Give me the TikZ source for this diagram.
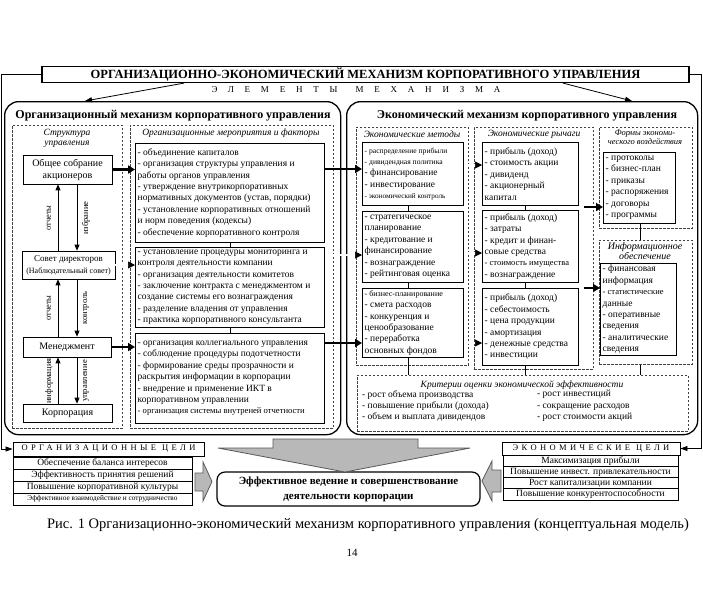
\documentclass[tikz,border=0pt]{standalone}
\usepackage{fontspec}
\setmainfont{Liberation Serif}
\usetikzlibrary{arrows.meta,calc}
\newcommand\fz[2]{\fontsize{#1}{#2}\selectfont}
\newcommand\tb[6]{\node[tbox, minimum width={(#4-#2)*1pt}, minimum height={(#5-#3)*1pt}] (#1) at (#2,#3) {};
  \node[txt] (#1t) at ([xshift=2.5pt]#1.west) {#6};}
\newcommand\db[5]{\node[dbox, minimum width={(#4-#2)*1pt}, minimum height={(#5-#3)*1pt}] (#1) at (#2,#3) {};}
\begin{document}
\begin{tikzpicture}[x=1pt,y=-1pt,
  panel/.style={draw, line width=1.3pt, rounded corners=14pt, anchor=north west, inner sep=0},
  dbox/.style={draw=black!75, dash pattern=on 2.4pt off 1.6pt, line width=0.6pt, anchor=north west, inner sep=0},
  tbox/.style={draw, line width=0.7pt, anchor=north west, inner sep=0},
  txt/.style={anchor=west, align=left, inner sep=0, font=\fz{9.5}{11.4}},
  sbox/.style={draw, line width=0.7pt, align=center, inner sep=0},
  conn/.style={line width=0.6pt},
  varr/.style={line width=0.8pt, -{Triangle[length=6pt,width=5pt]}},
  tarr/.style={line width=2.6pt, -{Triangle[length=7pt,width=8pt]}},
  darr/.style={double, double distance=1.4pt, line width=0.6pt, -{Triangle[length=7pt,width=7pt]}},
  larr/.style={line width=0.8pt, -{Triangle[length=7pt,width=5pt]}},
  ital/.style={font=\itshape\fz{9.5}{10}, inner sep=0, align=center},
  vlab/.style={rotate=90, font=\fz{8.5}{10}, inner sep=0},
  headtxt/.style={font=\bfseries\fz{12}{13}, inner sep=0},
  goalrow/.style={draw, line width=0.6pt, inner sep=0, font=\fz{9.5}{11}},
  garrow/.style={fill=black!28, draw=black!65, line width=0.8pt}
]
\useasboundingbox (0,0) rectangle (703,595);
\fill[white] (0,0) rectangle (703,595);

% title
\node[draw, line width=1.2pt, minimum width=647pt, minimum height=16pt, inner sep=0,
  font=\bfseries\fz{12.5}{14}] (title) at (365.5,74.5)
  {ОРГАНИЗАЦИОННО-ЭКОНОМИЧЕСКИЙ МЕХАНИЗМ КОРПОРАТИВНОГО УПРАВЛЕНИЯ};
\node[font=\fz{9}{11}, inner sep=0] (elem) at (356,90)
  {\addfontfeature{LetterSpace=120}ЭЛЕМЕНТЫ\hspace{18pt}МЕХАНИЗМА};

% panels
\node[panel, minimum width=336pt, minimum height=333pt] (lp) at (4,101) {};
\node[panel, minimum width=351pt, minimum height=333pt] (rp) at (346,101) {};
\node[headtxt] (lh) at (173,116) {Организационный механизм корпоративного управления};
\node[headtxt] (rh) at (527,116) {Экономический механизм корпоративного управления};

% dashed columns
\db{ds}{12}{125}{122}{428}
\db{dm}{130}{125}{333}{428}
\db{dme}{356}{127}{468}{365}
\db{dle}{474}{127}{593}{369}
\db{dfo}{599}{127}{692}{228}
\db{dinf}{599}{240}{692}{364}
\db{crit}{357}{375}{688}{431}

\node[ital, font=\itshape\fz{9.5}{10}] (st) at (67,138) {Структура\\управления};
\node[ital] (mt) at (231,133) {Организационные мероприятия и факторы};
\node[ital] (emt) at (412,134) {Экономические методы};
\node[ital] (elt) at (534,134) {Экономические рычаги};
\node[ital, font=\itshape\fz{8.5}{9.5}] (fmt) at (645,137.5) {Формы экономи-\\ческого воздействия};
\node[ital, font=\itshape\fz{10}{9}] (imt) at (645,251) {Информационное\\обеспечение};

% structure
\node[sbox, minimum width=89pt, minimum height=29pt, font=\fz{10}{12}] (gsm) at (67.5,169.5) {Общее собрание\\акционеров};
\node[sbox, minimum width=93pt, minimum height=28pt] (sov) at (68.5,265) {{\fz{9}{11}Совет директоров}\\{\fz{8}{10}(Наблюдательный совет)}};
\node[sbox, minimum width=88pt, minimum height=20pt, font=\fz{10}{12}] (man) at (67,347) {Менеджмент};
\node[sbox, minimum width=89pt, minimum height=18pt, font=\fz{10}{12}] (korp) at (67.5,413) {Корпорация};

\coordinate (cu) at (58,0); \coordinate (cd) at (77,0);
\draw[varr] (sov.north -| cu) -- (gsm.south -| cu);
\draw[varr] (gsm.south -| cd) -- (sov.north -| cd);
\draw[varr] (man.north -| cu) -- (sov.south -| cu);
\draw[varr] (sov.south -| cd) -- (man.north -| cd);
\draw[varr] (korp.north -| cu) -- (man.south -| cu);
\draw[varr] (man.south -| cd) -- (korp.north -| cd);
\node[vlab] (l1) at (49,218) {отчеты};
\node[vlab] (l2) at (86,218) {избрание};
\node[vlab] (l3) at (49,308) {отчеты};
\node[vlab] (l4) at (86,308) {контроль};
\node[vlab] (l5) at (49,381) {информация};
\node[vlab] (l6) at (86,381) {управление};

% measures
\tb{m1}{135}{143}{324}{242}{- объединение капиталов\\
- организация структуры управления и\\
работы органов управления\\
- утверждение внутрикорпоративных\\
нормативных документов (устав, порядки)\\
- установление корпоративных отношений\\
и норм поведения (кодексы)\\
- обеспечение корпоративного контроля}
\tb{m2}{135}{247}{324}{327}{- установление процедуры мониторинга и\\
контроля деятельности компании\\
- организация деятельности комитетов\\
- заключение контракта с менеджментом и\\
создание системы его вознаграждения\\
- разделение владения от управления\\
- практика корпоративного консультанта}
\tb{m3}{135}{333}{324}{423}{- организация коллегиального управления\\
- соблюдение процедуры подотчетности\\
- формирование среды прозрачности и\\
раскрытия информации в корпорации\\
- внедрение и применение ИКТ в\\
корпоративном управлении\\
{\fz{8.6}{11}- организация системы внутреней отчетности}}

% methods
\tb{A}{362}{142}{463}{205}{{\fz{7.6}{9}- распределение прибыли}\\
{\fz{7.6}{9}- дивидендная политика}\\
- финансирование\\
- инвестирование\\
{\fz{7.2}{9}- экономический контроль}}
\tb{B}{362}{211}{463}{282}{- стратегическое\\планирование\\- кредитование и\\финансирование\\- вознаграждение\\- рейтинговая оценка}
\tb{C}{362}{288}{463}{357}{{\fz{8}{9}- бизнес-планирование}\\- смета расходов\\- конкуренция и\\ценообразование\\- переработка\\основных фондов}

% levers
\tb{L1}{482}{142}{578}{205}{- прибыль (доход)\\- стоимость акции\\- дивиденд\\- акционерный\\капитал}
\tb{L2}{482}{210}{578}{282}{- прибыль (доход)\\- затраты\\- кредит и финан-\\совые средства\\{\fz{8.5}{10}- стоимость имущества}\\- вознаграждение}
\tb{L3}{482}{288}{578}{365}{- прибыль (доход)\\- себестоимость\\- цена продукции\\- амортизация\\- денежные средства\\- инвестиции}

% forms
\tb{F1}{603}{152}{675}{223}{- протоколы\\- бизнес-план\\- приказы\\- распоряжения\\- договоры\\- программы}
\tb{F2}{600}{263}{676}{355}{- финансовая\\информация\\{\fz{8.5}{10}- статистические}\\данные\\- оперативные\\сведения\\- аналитические\\сведения}

% criteria
\node[ital] (ct) at (522,385) {Критерии оценки экономической эффективности};
\node[txt, anchor=north west] (cl) at (362,390) {- рост объема производства\\- повышение прибыли (дохода)\\- объем и выплата дивидендов};
\node[txt, anchor=north west] (cr) at (537,390) {- рост инвестиций\\- сокращение расходов\\- рост стоимости акций};

% arrows between columns
\draw[tarr] (gsm.east) -- (gsm.east -| m1.west);
\draw[darr] (sov.east) -- (sov.east -| m2.west);
\draw[tarr] (man.east) -- (man.east -| m3.west);
\coordinate (r1) at (0,169); \coordinate (r2) at (0,255); \coordinate (r3) at (0,343);
\draw[tarr] (r1 -| m1.east) -- (r1 -| A.west);
\draw[darr] (r2 -| m2.east) -- (r2 -| B.west);
\draw[tarr] (r3 -| m3.east) -- (r3 -| C.west);
\coordinate (s1) at (0,165); \coordinate (s2) at (0,253); \coordinate (s3) at (0,343);
\draw[darr] (s1 -| A.east) -- (s1 -| L1.west);
\draw[darr] (s2 -| B.east) -- (s2 -| L2.west);
\draw[darr] (s3 -| C.east) -- (s3 -| L3.west);
\coordinate (dv) at (584,0);
\draw[conn, double, double distance=1.5pt] (L1.north -| dv) -- (L3.south -| dv);
\coordinate (r4) at (0,207); \coordinate (r5) at (0,288);
\draw[tarr] (r4 -| dv) -- (r4 -| F1.west);
\draw[tarr] (r5 -| dv) -- (r5 -| F2.west);

% vertical connectors
\draw[conn] (m1.south) -- (m2.north);
\draw[conn] (m2.south) -- (m3.north);
\coordinate (cx1) at (408,0); \coordinate (cx2) at (525,0); \coordinate (cx3) at (640,0);
\draw[conn] (A.south -| cx1) -- (B.north -| cx1);
\draw[conn] (B.south -| cx1) -- (C.north -| cx1);
\draw[conn] (C.south -| cx1) -- (crit.north -| cx1);
\draw[conn] (L1.south -| cx2) -- (L2.north -| cx2);
\draw[conn] (L2.south -| cx2) -- (L3.north -| cx2);
\draw[conn] (L3.south -| cx2) -- (crit.north -| cx2);
\draw[conn] (F1.south -| cx3) -- (dinf.north -| cx3);
\draw[conn] (dinf.south -| cx3) -- (crit.north -| cx3);

% title arrows
\coordinate (ta1) at (184,0); \coordinate (tb1) at (85,0);
\coordinate (ta2) at (563,0); \coordinate (tb2) at (632,0);
\draw[larr] (title.south -| ta1) -- (lp.north -| tb1);
\draw[larr] (title.south -| ta2) -- (rp.north -| tb2);

% goals
\node[draw, line width=0.9pt, minimum width=191pt, minimum height=14pt, inner sep=0, font=\fz{8.5}{10}] (orgH) at (108.5,449)
  {\addfontfeature{LetterSpace=40}ОРГАНИЗАЦИОННЫЕ\hspace{6pt}ЦЕЛИ};
\node[goalrow, minimum width=179pt, minimum height=12pt] (o1) at (102.5,463) {Обеспечение баланса интересов};
\node[goalrow, minimum width=179pt, minimum height=12pt] (o2) at (102.5,475) {Эффективность принятия решений};
\node[goalrow, minimum width=179pt, minimum height=12pt] (o3) at (102.5,487) {Повышение корпоративной культуры};
\node[goalrow, minimum width=179pt, minimum height=12pt, font=\fz{7.3}{9}] (o4) at (102.5,499) {Эффективное взаимодействие и сотрудничество};

\node[draw, line width=0.9pt, minimum width=178pt, minimum height=13pt, inner sep=0, font=\fz{8.5}{10}] (ecoH) at (591,448.5)
  {\addfontfeature{LetterSpace=40}ЭКОНОМИЧЕСКИЕ\hspace{6pt}ЦЕЛИ};
\node[goalrow, minimum width=175pt, minimum height=11.25pt] (e1) at (590.5,460.6) {Максимизация прибыли};
\node[goalrow, minimum width=175pt, minimum height=11.25pt] (e2) at (590.5,471.9) {Повышение инвест. привлекательности};
\node[goalrow, minimum width=175pt, minimum height=11.25pt] (e3) at (590.5,483.1) {Рост капитализации компании};
\node[goalrow, minimum width=175pt, minimum height=11.25pt] (e4) at (590.5,494.4) {Повышение конкурентоспособности};

\coordinate (lc) at (1,449); \coordinate (rc) at (701,448.5);
\draw[larr] (title.west) -| (lc) -- (orgH.west);
\draw[larr] (title.east) -| (rc) -- (ecoH.east);

% result
\node[draw, line width=1.2pt, rounded corners=8pt, minimum width=263pt, minimum height=34pt, inner sep=0,
  font=\bfseries\fz{11}{15}, align=center] (eff) at (348.5,489)
  {Эффективное ведение и совершенствование\\деятельности корпорации};
\filldraw[garrow] (273,439) -- (418,439) -- (418,448) -- (470,448) -- (345,472) -- (218,448) -- (273,448) -- cycle;
\filldraw[garrow] (195,473) -- (203,473) -- (203,462) -- (212,481.5) -- (203,501) -- (203,491) -- (195,491) -- cycle;
\filldraw[garrow] (501,470) -- (492,470) -- (492,461) -- (482,481) -- (492,501) -- (492,492) -- (501,492) -- cycle;

% caption
\node[font=\fz{14.5}{17}, inner sep=0] (cap) at (368,525) {Рис. 1 Организационно-экономический механизм корпоративного управления (концептуальная модель)};
\node[font=\fz{11}{13}, inner sep=0] (pg) at (352,553) {14};
\end{tikzpicture}
\end{document}
